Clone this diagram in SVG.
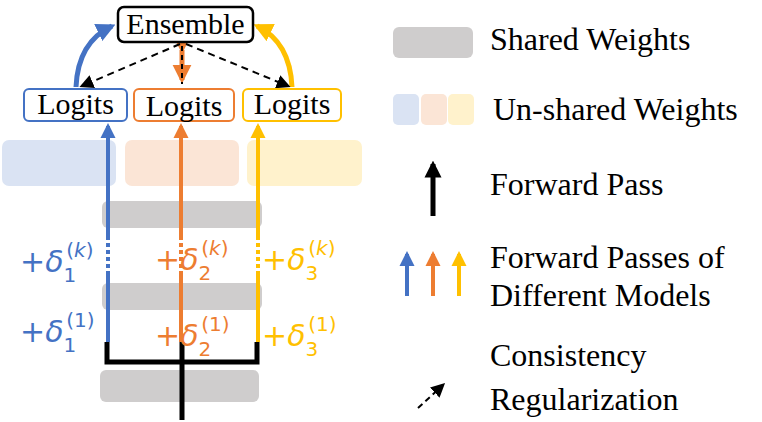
<svg xmlns="http://www.w3.org/2000/svg" width="762" height="422" viewBox="0 0 762 422">
<style>
.t{font-family:"Liberation Serif","Times New Roman",Tinos,"DejaVu Serif",serif;font-size:30px;fill:#000}
.l{font-family:"Liberation Serif","Times New Roman",Tinos,"DejaVu Serif",serif;font-size:32px;fill:#000}
.m{font-family:"DejaVu Sans",sans-serif;font-size:30px}
.g{fill:#cfcdcd}
.b{fill:#4472c4}.o{fill:#ed7d31}.y{fill:#ffc000}
</style>
<defs>
<marker id="ab" viewBox="0 0 10 10" refX="8" refY="5" markerWidth="3.8" markerHeight="4" orient="auto"><path d="M0,0L10,5L0,10z" fill="#4472c4"/></marker>
<marker id="ao" viewBox="0 0 10 10" refX="8" refY="5" markerWidth="3.8" markerHeight="4" orient="auto"><path d="M0,0L10,5L0,10z" fill="#ed7d31"/></marker>
<marker id="ay" viewBox="0 0 10 10" refX="8" refY="5" markerWidth="3.8" markerHeight="4" orient="auto"><path d="M0,0L10,5L0,10z" fill="#ffc000"/></marker>
<marker id="ak" viewBox="0 0 10 10" refX="8" refY="5" markerWidth="3.4" markerHeight="3.6" orient="auto"><path d="M0,0L10,5L0,10z" fill="#000"/></marker>
<marker id="ad" viewBox="0 0 10 10" refX="8" refY="5" markerWidth="7" markerHeight="7" orient="auto"><path d="M0,0L10,5L0,10z" fill="#000"/></marker>
</defs>
<g id="weights">
<rect x="2" y="140" width="114" height="46" rx="7" fill="#dae3f3"/>
<rect x="125" y="140" width="114" height="46" rx="7" fill="#fbe5d6"/>
<rect x="247" y="140" width="115" height="46" rx="7" fill="#fff2cc"/>
<rect class="g" x="102" y="201" width="160" height="27" rx="6"/>
<rect class="g" x="102" y="283" width="160" height="27" rx="6"/>
<rect class="g" x="100" y="370" width="159" height="32" rx="6"/>
</g>
<g id="connectors" fill="none">
<path d="M108,342V275" stroke="#4472c4" stroke-width="4"/>
<path d="M108,275V237" stroke="#4472c4" stroke-width="4" stroke-dasharray="4,3"/>
<path d="M108,237V126" stroke="#4472c4" stroke-width="4" marker-end="url(#ab)"/>
<path d="M181,342V275" stroke="#ed7d31" stroke-width="4"/>
<path d="M181,275V237" stroke="#ed7d31" stroke-width="4" stroke-dasharray="4,3"/>
<path d="M181,237V126" stroke="#ed7d31" stroke-width="4" marker-end="url(#ao)"/>
<path d="M258,342V275" stroke="#ffc000" stroke-width="4"/>
<path d="M258,275V237" stroke="#ffc000" stroke-width="4" stroke-dasharray="4,3"/>
<path d="M258,237V126" stroke="#ffc000" stroke-width="4" marker-end="url(#ay)"/>
<path d="M107,342V362H257V342M182,342V420" stroke="#000" stroke-width="5"/>
<path d="M76,87Q78,42 112,26" stroke="#4472c4" stroke-width="5" marker-end="url(#ab)"/>
<path d="M292,87Q290,42 257,26" stroke="#ffc000" stroke-width="5" marker-end="url(#ay)"/>
<path d="M182,50V80" stroke="#ed7d31" stroke-width="5" marker-start="url(#ao)" marker-end="url(#ao)"/>
<path d="M182,46V84" stroke="#000" stroke-width="2" stroke-dasharray="5,4"/>
<path d="M180,44L82,86" stroke="#000" stroke-width="2" stroke-dasharray="7,5" marker-end="url(#ad)"/>
<path d="M186,44L288,86" stroke="#000" stroke-width="2" stroke-dasharray="7,5" marker-end="url(#ad)"/>
</g>
<g id="ensemble"><rect x="118" y="7" width="135" height="35" rx="6" fill="#fff" stroke="#000" stroke-width="2.5"/><text class="t" x="185.5" y="34" text-anchor="middle">Ensemble</text></g>
<g id="logits1"><rect x="24" y="89" width="103" height="32" rx="5" fill="#fff" stroke="#4472c4" stroke-width="2"/><text class="t" x="75.5" y="114" text-anchor="middle">Logits</text></g>
<g id="logits2"><rect x="134" y="89" width="100" height="32" rx="5" fill="#fff" stroke="#ed7d31" stroke-width="2"/><text class="t" x="184" y="116" text-anchor="middle">Logits</text></g>
<g id="logits3"><rect x="243" y="89" width="98" height="32" rx="5" fill="#fff" stroke="#ffc000" stroke-width="2"/><text class="t" x="292" y="114" text-anchor="middle">Logits</text></g>
<g id="labels" class="m">
<text class="b" x="20" y="272">+<tspan font-style="italic">δ</tspan><tspan font-size="20" dy="10">1</tspan><tspan font-size="20" dy="-25" dx="-10">(</tspan><tspan font-size="20" font-style="italic">k</tspan><tspan font-size="20">)</tspan></text>
<text class="o" x="155" y="270">+<tspan font-style="italic">δ</tspan><tspan font-size="20" dy="10">2</tspan><tspan font-size="20" dy="-25" dx="-10">(</tspan><tspan font-size="20" font-style="italic">k</tspan><tspan font-size="20">)</tspan></text>
<text class="y" x="262" y="270">+<tspan font-style="italic">δ</tspan><tspan font-size="20" dy="10">3</tspan><tspan font-size="20" dy="-25" dx="-10">(</tspan><tspan font-size="20" font-style="italic">k</tspan><tspan font-size="20">)</tspan></text>
<text class="b" x="20" y="342">+<tspan font-style="italic">δ</tspan><tspan font-size="20" dy="10">1</tspan><tspan font-size="20" dy="-25" dx="-10">(1)</tspan></text>
<text class="o" x="155" y="346">+<tspan font-style="italic">δ</tspan><tspan font-size="20" dy="10">2</tspan><tspan font-size="20" dy="-25" dx="-10">(1)</tspan></text>
<text class="y" x="262" y="346">+<tspan font-style="italic">δ</tspan><tspan font-size="20" dy="10">3</tspan><tspan font-size="20" dy="-25" dx="-10">(1)</tspan></text>
</g>
<g id="legend">
<rect class="g" x="393" y="27" width="80" height="31" rx="6"/>
<text class="l" x="490" y="50">Shared Weights</text>
<rect x="393" y="94" width="26" height="31" rx="5" fill="#dae3f3"/>
<rect x="421" y="94" width="26" height="31" rx="5" fill="#fbe5d6"/>
<rect x="448" y="94" width="26" height="31" rx="5" fill="#fff2cc"/>
<text class="l" x="493" y="120">Un-shared Weights</text>
<path d="M433,216V164" stroke="#000" stroke-width="5" marker-end="url(#ak)"/>
<text class="l" x="490" y="195">Forward Pass</text>
<path d="M407,296V254" stroke="#4472c4" stroke-width="4" marker-end="url(#ab)"/>
<path d="M433,296V254" stroke="#ed7d31" stroke-width="4" marker-end="url(#ao)"/>
<path d="M459,296V254" stroke="#ffc000" stroke-width="4" marker-end="url(#ay)"/>
<text class="l" x="490" y="268">Forward Passes of</text>
<text class="l" x="490" y="306">Different Models</text>
<path d="M418,408L443,385" stroke="#000" stroke-width="2" stroke-dasharray="6,4" marker-end="url(#ad)"/>
<text class="l" x="490" y="366">Consistency</text>
<text class="l" x="490" y="410">Regularization</text>
</g>
</svg>
